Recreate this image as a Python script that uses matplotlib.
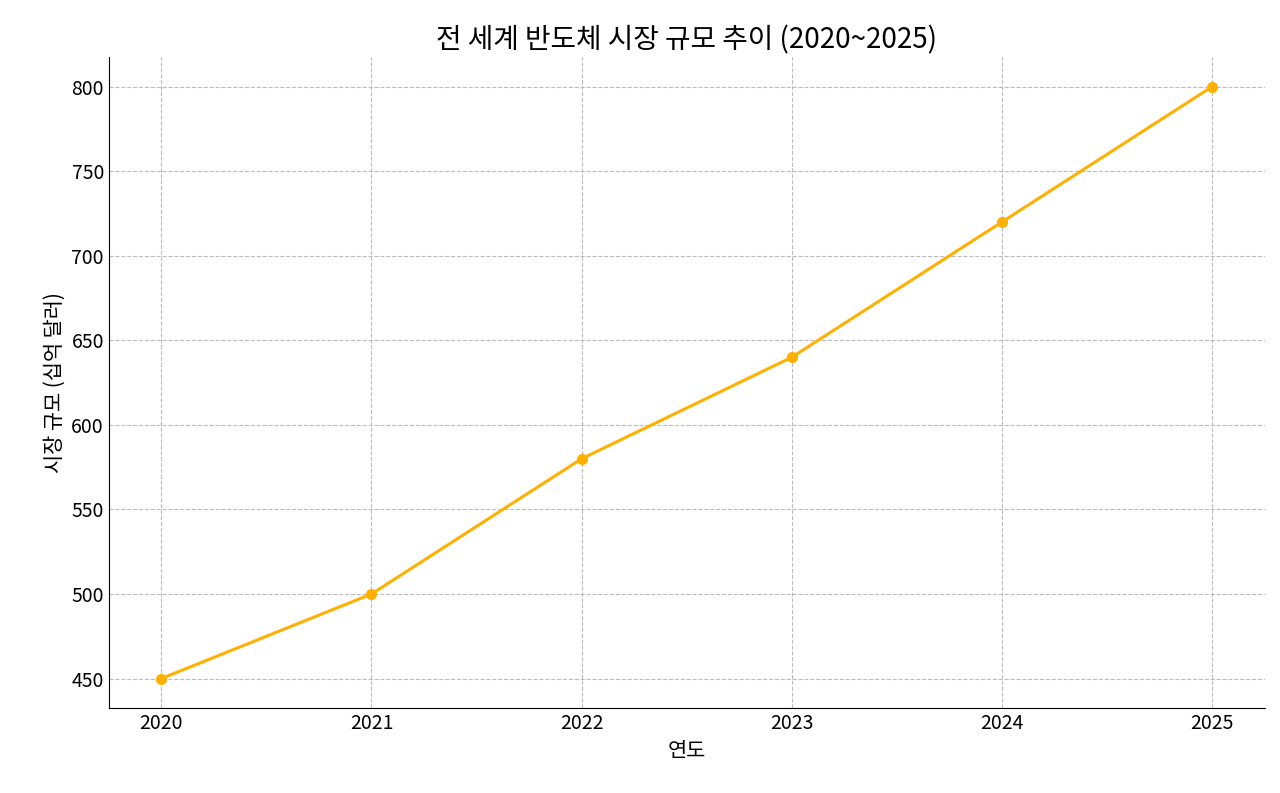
import matplotlib
matplotlib.use("Agg")
import matplotlib.pyplot as plt

plt.rcParams['font.family'] = ['Noto Sans CJK JP', 'Noto Sans CJK KR', 'Noto Sans CJK SC', 'DejaVu Sans']

years = [2020, 2021, 2022, 2023, 2024, 2025]
values = [450, 500, 580, 640, 720, 800]

fig, ax = plt.subplots(figsize=(12.8, 7.93), dpi=100)
ax.plot(years, values, color='#FFB000', marker='o', linewidth=2.2, markersize=7)
ax.set_title('전 세계 반도체 시장 규모 추이 (2020~2025)', fontsize=20)
ax.set_xlabel('연도', fontsize=15)
ax.set_ylabel('시장 규모 (십억 달러)', fontsize=15)
ax.set_xticks(years)
ax.set_yticks([450, 500, 550, 600, 650, 700, 750, 800])
ax.tick_params(labelsize=14, length=0)
ax.grid(True, linestyle='--', color='#bbbbbb', linewidth=0.8)
ax.spines['top'].set_visible(False)
ax.spines['right'].set_visible(False)
plt.subplots_adjust(left=0.085, right=0.988, top=0.928, bottom=0.107)
fig.savefig('out.png')
